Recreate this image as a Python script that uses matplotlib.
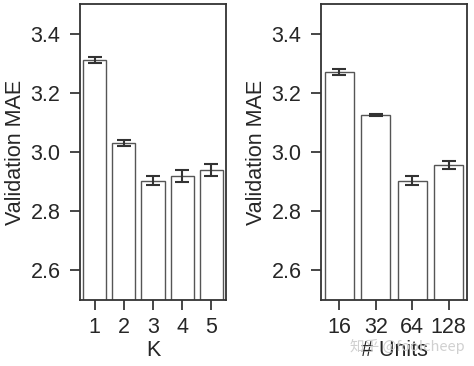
import matplotlib
matplotlib.use('Agg')
import matplotlib.pyplot as plt

# data
k_labels = ['1', '2', '3', '4', '5']
k_mae = [3.31, 3.03, 2.903, 2.918, 2.94]
k_err = [0.010, 0.010, 0.015, 0.020, 0.020]

unit_labels = ['16', '32', '64', '128']
unit_mae = [3.27, 3.125, 2.903, 2.956]
unit_err = [0.010, 0.005, 0.015, 0.015]

plt.rcParams['font.family'] = ['Liberation Sans', 'DejaVu Sans']
text_col = '#262626'

fig = plt.figure(figsize=(4.74, 3.66), dpi=100)
ax1 = fig.add_axes([80 / 474, 66 / 366, 146 / 474, 296 / 366])
ax2 = fig.add_axes([321 / 474, 66 / 366, 146 / 474, 296 / 366])


def draw(ax, labels, vals, errs, xlabel):
    xs = range(len(labels))
    ax.bar(xs, vals, width=0.8, color='white', edgecolor='#555555', linewidth=1.0)
    ax.errorbar(xs, vals, yerr=errs, fmt='none', ecolor='#333333',
                elinewidth=1.5, capsize=5, capthick=1.5)
    ax.set_xlim(-0.5, len(labels) - 0.5)
    ax.set_ylim(2.5, 3.5)
    ax.set_yticks([2.6, 2.8, 3.0, 3.2, 3.4])
    ax.set_yticklabels(['2.6', '2.8', '3.0', '3.2', '3.4'])
    ax.set_xticks(list(xs))
    ax.set_xticklabels(labels)
    ax.tick_params(labelsize=15.5, colors=text_col, length=7, width=1.2)
    ax.tick_params(axis='y', pad=7)
    ax.tick_params(axis='x', pad=5)
    for s in ax.spines.values():
        s.set_color('#333333')
        s.set_linewidth(1.3)
    ax.set_ylabel('Validation MAE', fontsize=15.5, color=text_col, labelpad=3)
    ax.set_xlabel(xlabel, fontsize=15.5, color=text_col, labelpad=2)


draw(ax1, k_labels, k_mae, k_err, 'K')
draw(ax2, unit_labels, unit_mae, unit_err, '# Units')

# faint watermark
fig.text(0.738, 0.04, '知乎 @foolcheep', fontsize=10.5, color='#d0d0d0',
         family=['Noto Sans CJK SC', 'DejaVu Sans'], zorder=0)

fig.savefig('out.png', dpi=100)
